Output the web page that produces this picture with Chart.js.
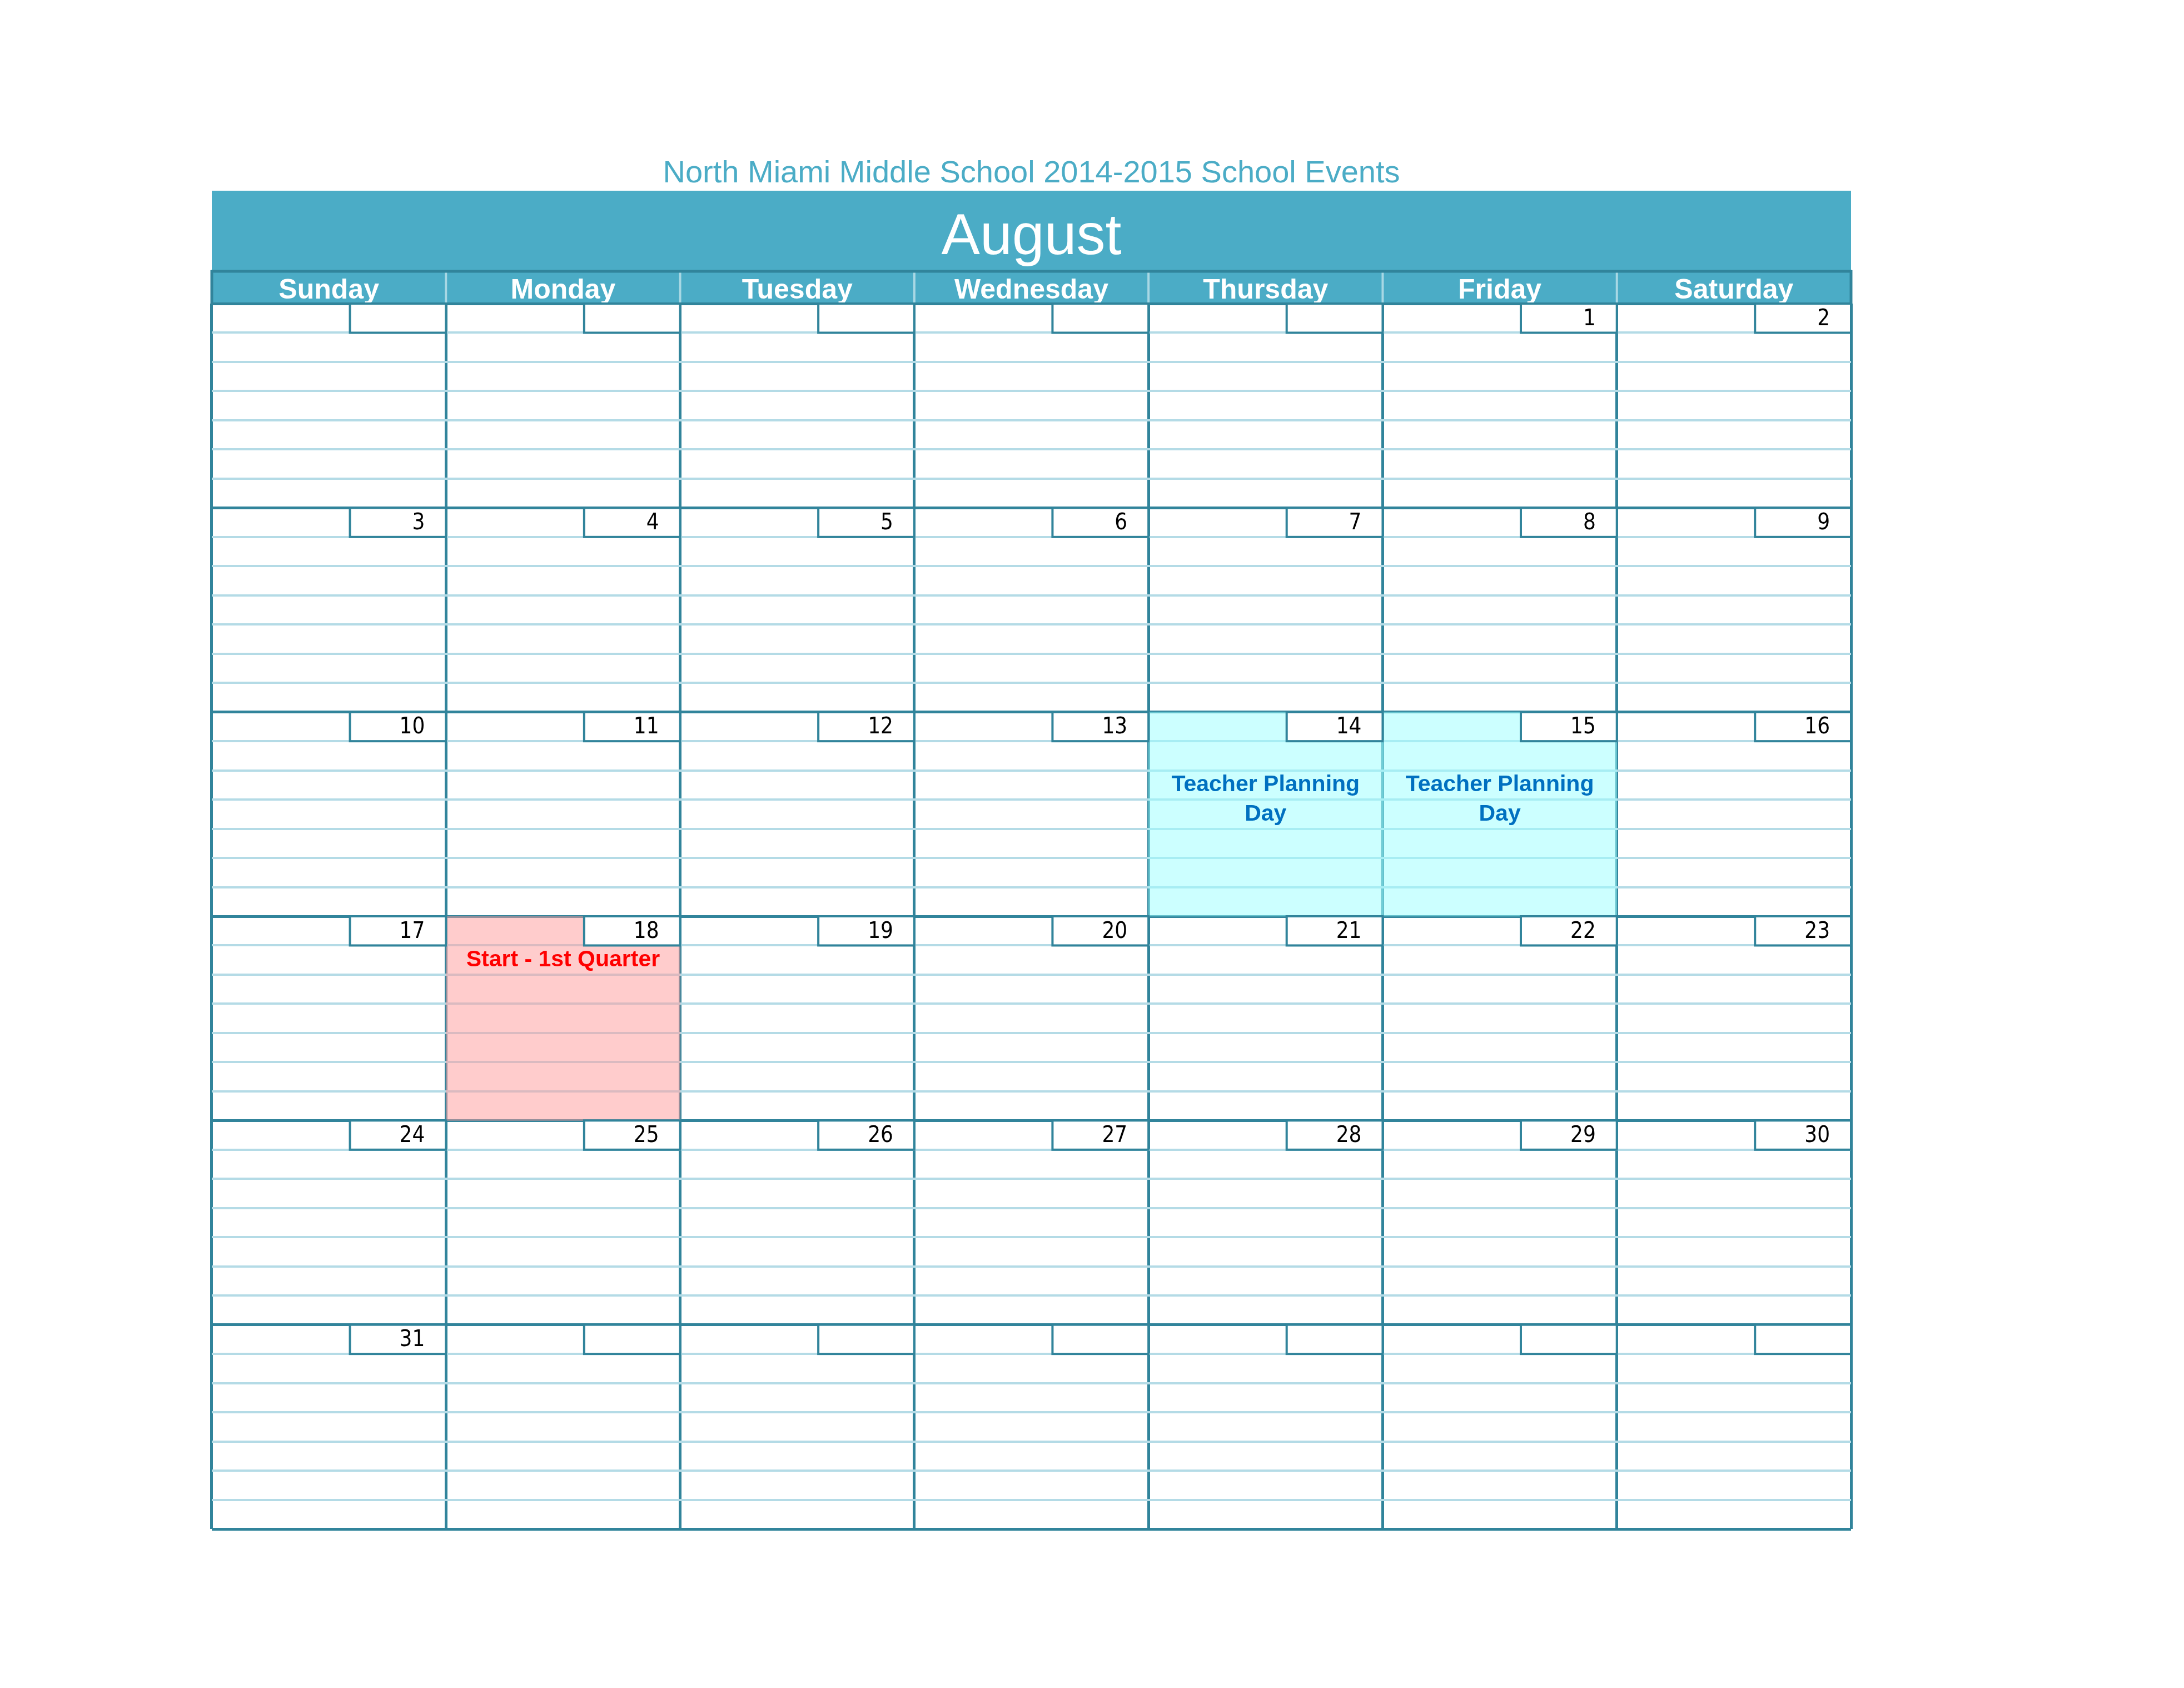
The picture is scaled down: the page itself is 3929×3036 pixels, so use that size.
<!DOCTYPE html>
<html>
<head>
<meta charset="utf-8">
<script src="https://cdn.jsdelivr.net/npm/chart.js@4/dist/chart.umd.min.js"></script>
<style>
  html, body { margin: 0; padding: 0; background: #fff; }
  canvas { display: block; }
</style>
</head>
<body>
<canvas id="cal" width="3929" height="3036"></canvas>
<script>
const title = 'North Miami Middle School 2014-2015 School Events'
const monthName = 'August'
const days = ['Sunday', 'Monday', 'Tuesday', 'Wednesday', 'Thursday', 'Friday', 'Saturday']
const weeks = [
    ['', '', '', '', '', '1', '2'],
    ['3', '4', '5', '6', '7', '8', '9'],
    ['10', '11', '12', '13', '14', '15', '16'],
    ['17', '18', '19', '20', '21', '22', '23'],
    ['24', '25', '26', '27', '28', '29', '30'],
    ['31', '', '', '', '', '', '']
]
const linesPerWeek = 7
// events: day column, week row, first text line, text lines, fill, text colour
const eventDays = ['Thursday', 'Friday', 'Monday']
const eventWeeks = [2, 2, 3]
const eventLines = [[2, 3], [2, 3], [1]]
const eventTexts = [['Teacher Planning', 'Day'], ['Teacher Planning', 'Day'], ['Start - 1st Quarter']]
const eventFills = ['rgba(153,255,255,0.5)', 'rgba(153,255,255,0.5)', 'rgba(255,153,153,0.5)']
const eventColors = ['#0070C0', '#0070C0', '#FF0000']

const dark = '#31849B'
const light = '#B4DBE6'
const band = '#4BACC6'

const calendarPlugin = {
    id: 'calendar',
    beforeDraw(chart) {
        const c = chart.ctx, a = chart.chartArea, x = chart.scales.x
        c.save()
        c.fillStyle = '#fff'
        c.fillRect(0, 0, chart.width, chart.height)
        // header band
        c.fillStyle = band
        c.fillRect(a.left, 343, a.right - a.left, a.top - 343)
        c.textAlign = 'center'
        c.textBaseline = 'alphabetic'
        c.fillStyle = band
        c.font = '56px "Liberation Sans", Arial, sans-serif'
        c.fillText(title, (a.left + a.right) / 2, 328)
        c.fillStyle = '#fff'
        c.font = '104px "Liberation Sans", Arial, sans-serif'
        c.fillText(monthName, (a.left + a.right) / 2, 457)
        c.font = 'bold 50px "Liberation Sans", Arial, sans-serif'
        days.forEach((d, i) => c.fillText(d, x.getPixelForValue(i), 537))
        // separators in day row
        c.strokeStyle = '#A8D8E4'
        c.lineWidth = 4
        for (let i = 1; i < days.length; i++) {
            const px = (x.getPixelForValue(i - 1) + x.getPixelForValue(i)) / 2
            c.beginPath(); c.moveTo(px, 490); c.lineTo(px, a.top); c.stroke()
        }
        c.strokeStyle = dark
        c.lineWidth = 5
        c.beginPath(); c.moveTo(a.left - 2, 488); c.lineTo(a.right + 2, 488); c.stroke()
        c.beginPath(); c.moveTo(a.left, 486); c.lineTo(a.left, a.top); c.stroke()
        c.beginPath(); c.moveTo(a.right, 486); c.lineTo(a.right, a.top); c.stroke()
        c.restore()
    },
    afterDatasetsDraw(chart) {
        const c = chart.ctx, x = chart.scales.x, y = chart.scales.y
        const colW = x.getPixelForValue(1) - x.getPixelForValue(0)
        c.save()
        // redraw the light lines over the fills and the dark week lines
        weeks.forEach((wk, w) => {
            wk.forEach((num, d) => {
                const cx = x.getPixelForValue(d)
                const left = cx - colW / 2, right = cx + colW / 2
                const top = y.getPixelForValue(w * linesPerWeek)
                const bot = y.getPixelForValue(w * linesPerWeek + 1)
                const bx = left + colW * 0.59
                c.fillStyle = '#fff'
                c.fillRect(bx, top, right - bx, bot - top)
                c.strokeStyle = dark
                c.lineWidth = 4
                c.strokeRect(bx, top, right - bx, bot - top)
                if (num) {
                    c.fillStyle = '#000'
                    c.font = '40px "DejaVu Sans Condensed", "Liberation Sans Narrow", sans-serif'
                    c.textAlign = 'right'
                    c.textBaseline = 'middle'
                    c.fillText(num, right - colW * 0.09, (top + bot) / 2 + 2)
                }
            })
        })
        eventDays.forEach((d, i) => {
            const cx = x.getPixelForValue(days.indexOf(d))
            c.fillStyle = eventColors[i]
            c.font = 'bold 41px "Liberation Sans", Arial, sans-serif'
            c.textAlign = 'center'
            c.textBaseline = 'middle'
            eventTexts[i].forEach((t, k) => {
                const ln = eventWeeks[i] * linesPerWeek + eventLines[i][k]
                c.fillText(t, cx, (y.getPixelForValue(ln) + y.getPixelForValue(ln + 1)) / 2)
            })
        })
        c.restore()
    }
}

const ctx = document.getElementById('cal').getContext('2d')
new Chart(ctx, {
    type: 'bar',
    data: {
        labels: days,
        datasets: [{
            data: eventDays.map((d, i) => ({
                x: d,
                y: [eventWeeks[i] * linesPerWeek, (eventWeeks[i] + 1) * linesPerWeek]
            })),
            backgroundColor: eventFills,
            borderWidth: 0,
            barPercentage: 1,
            categoryPercentage: 1,
            grouped: false
        }]
    },
    options: {
        responsive: false,
        animation: false,
        devicePixelRatio: 1,
        layout: { padding: { left: 381, right: 599, top: 546, bottom: 286 } },
        plugins: { legend: { display: false }, tooltip: { enabled: false } },
        scales: {
            x: {
                offset: true,
                ticks: { display: false },
                border: { display: false },
                grid: { offset: true, color: dark, lineWidth: 5, drawTicks: false }
            },
            y: {
                min: 0,
                max: weeks.length * linesPerWeek,
                reverse: true,
                ticks: { display: false, stepSize: 1, autoSkip: false },
                border: { display: false },
                grid: {
                    drawTicks: false,
                    color: c => c.tick.value % linesPerWeek === 0 ? dark : light,
                    lineWidth: c => c.tick.value % linesPerWeek === 0 ? 5 : 4
                }
            }
        }
    },
    plugins: [calendarPlugin]
})
</script>
</body>
</html>
